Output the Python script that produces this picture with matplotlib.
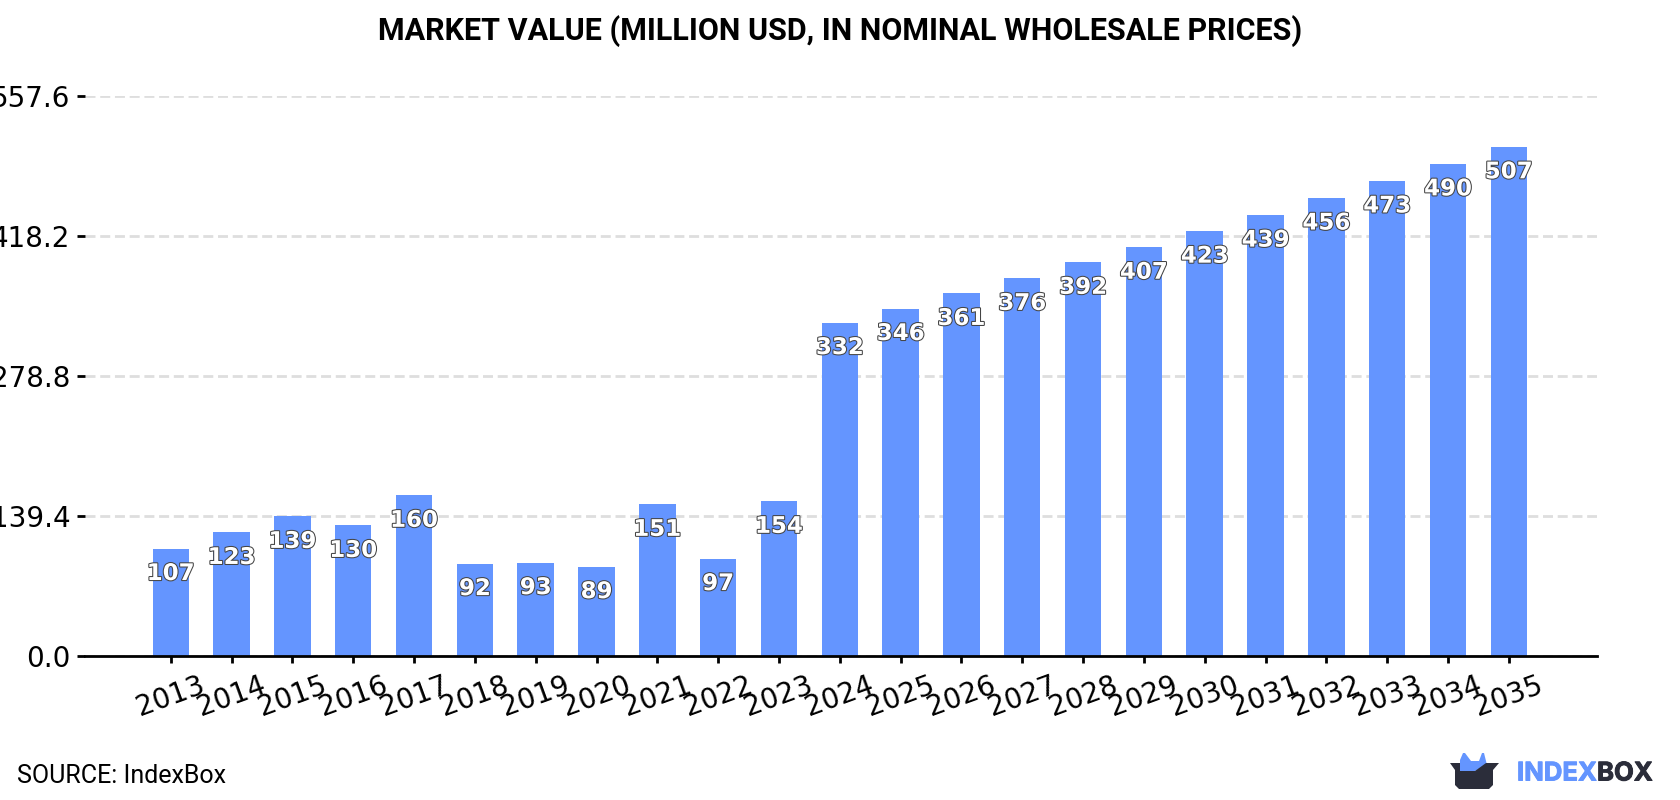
import matplotlib
matplotlib.use("Agg")
import matplotlib.pyplot as plt
import matplotlib.patheffects as pe
from matplotlib.patches import Polygon

years = list(range(2013, 2036))
values = [107, 123, 139, 130, 160, 92, 93, 89, 151, 97, 154, 332, 346, 361,
          376, 392, 407, 423, 439, 456, 473, 490, 507]
y_ticks = [0.0, 139.4, 278.8, 418.2, 557.6]

BLUE = "#6495ff"
DARK = "#2b2d3a"
W, H = 1680, 800


def fx(px):
    return px / W


def fy(py):
    return 1 - py / H


fig = plt.figure(figsize=(W / 100, H / 100), dpi=100, facecolor="white")
ax = fig.add_axes([fx(85), fy(656), (1597 - 85) / W, (656 - 96) / H])

ax.bar(years, values, width=0.6, color=BLUE, zorder=3)
ax.set_xlim(2013 - 1.41, 2013 + 23.45)
ax.set_ylim(0, 557.6)

ax.set_yticks(y_ticks)
ax.set_yticklabels([f"{t:.1f}" for t in y_ticks], fontsize=20, color="black")
ax.set_xticks(years)
ax.set_xticklabels([str(y) for y in years], rotation=20, fontsize=20,
                   ha="center", color="black")
ax.tick_params(axis="y", length=5.5, width=2, pad=5)
ax.tick_params(axis="x", length=5, width=2, pad=6)

ax.grid(axis="y", color="#dedede", linestyle=(0, (3.6, 1.7)), linewidth=2, zorder=0)
ax.set_axisbelow(True)
for side in ("left", "right", "top"):
    ax.spines[side].set_visible(False)
ax.spines["bottom"].set_linewidth(2)
ax.spines["bottom"].set_zorder(5)

for year, value in zip(years, values):
    ax.annotate(str(value), (year, value), xytext=(0, -18),
                textcoords="offset points", ha="center", va="center",
                fontsize=16.5, fontweight="bold", color="white", zorder=6,
                path_effects=[pe.withStroke(linewidth=1.5, foreground="#444444")])

fig.text(0.5, fy(31), "MARKET VALUE (MILLION USD, IN NOMINAL WHOLESALE PRICES)",
         ha="center", va="center", fontsize=22, fontweight="bold",
         family="Roboto", color="black")
fig.text(fx(17), fy(776), "SOURCE: IndexBox", ha="left", va="center",
         fontsize=18, family="Roboto", color="black")

# Brand mark: blue peaks rising out of a dark box
peaks = [(1460, 771), (1460, 760), (1463, 753), (1465, 753), (1471, 761), (1479, 761),
         (1482, 753), (1484, 753), (1487, 765), (1475, 771)]
fig.add_artist(Polygon([(fx(x), fy(y)) for x, y in peaks], closed=True,
                       transform=fig.transFigure, facecolor=BLUE, edgecolor="none"))
box = [(1450, 763), (1460, 763), (1460, 771), (1475, 771), (1486, 763), (1499, 763),
       (1493, 770), (1493, 785), (1489, 789), (1459, 789), (1455, 785), (1455, 770)]
fig.add_artist(Polygon([(fx(x), fy(y)) for x, y in box], closed=True,
                       transform=fig.transFigure, facecolor=DARK, edgecolor="none"))

for word, left, colour in (("INDEX", 1517, BLUE), ("BOX", 1597, DARK)):
    fig.text(fx(left), fy(774), word, ha="left", va="center", fontsize=18.5,
             fontweight="bold", family="Inter", color=colour,
             path_effects=[pe.withStroke(linewidth=0.7, foreground=colour)])

fig.savefig("out.png", dpi=100, facecolor="white")
